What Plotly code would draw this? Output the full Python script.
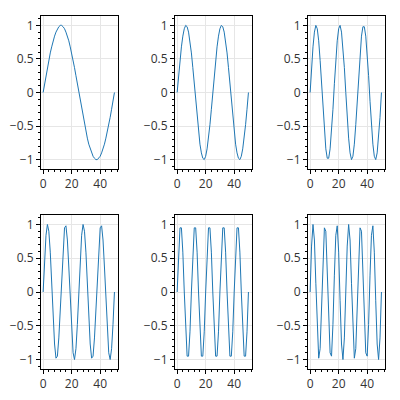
"""
Six sine panels, 1 to 6 cycles over 50 samples.
"""
import plotly.graph_objects as go
from plotly.subplots import make_subplots

x = list(range(51))

y1 = [0, .13, .25, .37, .48, .59, .68, .77, .84, .90, .95, .98, 1, 1, .98, .95, .90, .84, .77, .68,
      .59, .48, .37, .25, .13, 0, -.13, -.25, -.37, -.48, -.59, -.68, -.77, -.84, -.90, -.95, -.98,
      -1, -1, -.98, -.95, -.90, -.84, -.77, -.68, -.59, -.48, -.37, -.25, -.13, 0]

y2 = [0, .25, .48, .68, .84, .95, 1, .98, .90, .77, .59, .37, .13, -.13, -.37, -.59, -.77, -.90,
      -.98, -1, -.95, -.84, -.68, -.48, -.25,
      0, .25, .48, .68, .84, .95, 1, .98, .90, .77, .59, .37, .13, -.13, -.37, -.59, -.77, -.90,
      -.98, -1, -.95, -.84, -.68, -.48, -.25, 0]

y3 = [0, .37, .68, .90, 1, .95, .77, .48, .13, -.25, -.59, -.84, -.98, -.98, -.84, -.59, -.25,
      .13, .48, .77, .95, 1, .90, .68, .37, 0, -.37, -.68, -.90, -1, -.95, -.77, -.48, -.13,
      .25, .59, .84, .98, .98, .84, .59, .25, -.13, -.48, -.77, -.95, -1, -.90, -.68, -.37, 0]

y4 = [0, .48, .84, 1, .90, .59, .13, -.37, -.77, -.98, -.95, -.68, -.25, .25, .68, .95, .98, .77,
      .37, -.13, -.59, -.90, -1, -.84, -.48,
      0, .48, .84, 1, .90, .59, .13, -.37, -.77, -.98, -.95, -.68, -.25, .25, .68, .95, .98, .77,
      .37, -.13, -.59, -.90, -1, -.84, -.48, 0]

y5 = [0, .59, .95, .95, .59, 0, -.59, -.95, -.95, -.59,
      0, .59, .95, .95, .59, 0, -.59, -.95, -.95, -.59,
      0, .59, .95, .95, .59, 0, -.59, -.95, -.95, -.59,
      0, .59, .95, .95, .59, 0, -.59, -.95, -.95, -.59,
      0, .59, .95, .95, .59, 0, -.59, -.95, -.95, -.59, 0]

y6 = [0, .68, 1, .77, .13, -.59, -.98, -.84, -.25, .48, .95, .90, .37, -.37, -.90, -.95, -.48,
      .25, .84, .98, .59, -.13, -.77, -1, -.68,
      0, .68, 1, .77, .13, -.59, -.98, -.84, -.25, .48, .95, .90, .37, -.37, -.90, -.95, -.48,
      .25, .84, .98, .59, -.13, -.77, -1, -.68, 0]

series = [y1, y2, y3, y4, y5, y6]

# panel boxes in figure pixels (page body adds its own 8px offset)
col_px = [(33, 110), (167, 244), (300, 377)]
row_px = [(8, 161), (207, 361)]

fig = make_subplots(rows=2, cols=3)

for i, ys in enumerate(series):
    r, c = i // 3 + 1, i % 3 + 1
    fig.add_trace(go.Scatter(x=x, y=ys, mode='lines',
                             line=dict(color='#1f77b4', width=1),
                             showlegend=False), row=r, col=c)
    x0, x1 = col_px[c - 1]
    t, b = row_px[r - 1]
    fig.update_xaxes(domain=[x0 / 400, x1 / 400], range=[-1.5, 52.5],
                     tickvals=[0, 20, 40], ticks='outside', ticklen=4,
                     minor=dict(dtick=4, tick0=0, ticks='outside', ticklen=2,
                                tickcolor='black', showgrid=False),
                     showline=True, linecolor='black', linewidth=1, mirror=True,
                     gridcolor='#e6e6e6', zeroline=False, tickcolor='black',
                     automargin=False, row=r, col=c)
    fig.update_yaxes(domain=[1 - b / 400, 1 - t / 400], range=[-1.14, 1.14],
                     tickvals=[-1, -0.5, 0, 0.5, 1], ticks='outside', ticklen=4,
                     minor=dict(dtick=0.1, tick0=0, ticks='outside', ticklen=2,
                                tickcolor='black', showgrid=False),
                     showline=True, linecolor='black', linewidth=1, mirror=True,
                     gridcolor='#e6e6e6', zeroline=False, tickcolor='black',
                     automargin=False, row=r, col=c)

fig.update_layout(width=400, height=400,
                  margin=dict(l=0, r=0, t=0, b=0),
                  paper_bgcolor='white', plot_bgcolor='white',
                  font=dict(family='Open Sans, sans-serif', size=12, color='#333'))

fig.write_html("out.html")
